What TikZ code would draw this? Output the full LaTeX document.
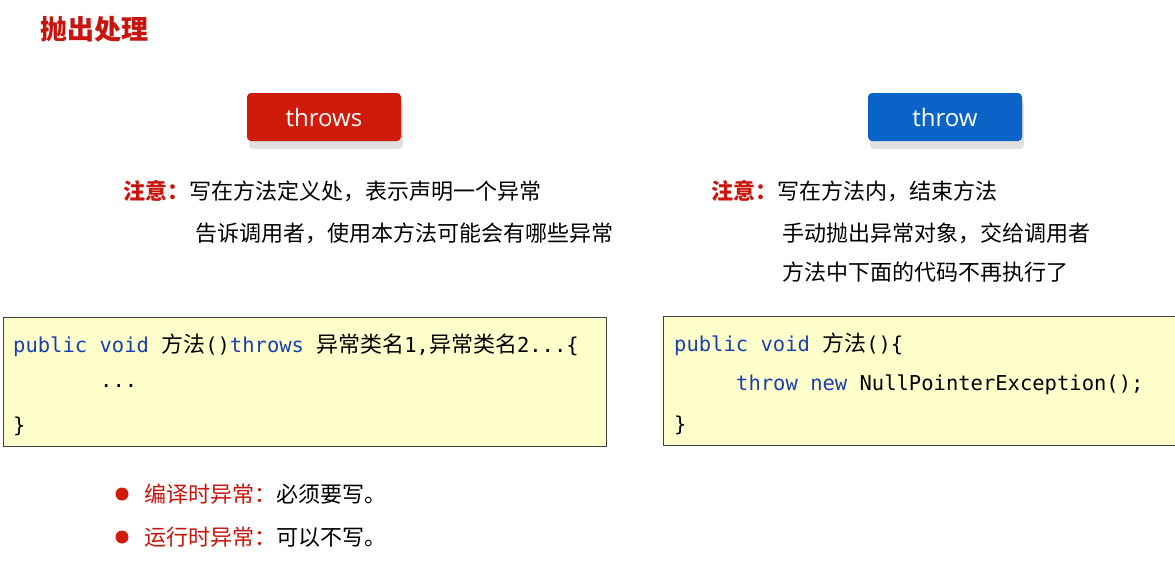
\documentclass[tikz,border=0pt]{standalone}
\usepackage{fontspec}
\setmainfont{Noto Sans CJK SC}
\newfontfamily\monof{DejaVu Sans Mono}
\newfontfamily\lat{Open Sans}
\definecolor{tred}{HTML}{C8140C}
\definecolor{bred}{HTML}{D01A0A}
\definecolor{bblue}{HTML}{0A64C8}
\definecolor{kw}{HTML}{1A3FB0}
\definecolor{codebg}{HTML}{FFFFCC}
\newcommand{\kwd}[1]{{\monof\fontsize{20.5}{22}\selectfont\color{kw}#1}}
\newcommand{\mn}[1]{{\monof\fontsize{20.5}{22}\selectfont #1}}
\begin{document}
\begin{tikzpicture}[x=1pt,y=-1pt,
  btn/.style={rounded corners=4pt,minimum width=154pt,minimum height=48pt,text=white,font=\lat\fontsize{24}{26}\selectfont},
  txt/.style={anchor=west,font=\fontsize{22}{24}\selectfont,inner sep=0pt},
  codebox/.style={draw=black!75,line width=0.8pt,fill=codebg},
  code/.style={anchor=west,inner sep=0pt,font=\fontsize{22}{24}\selectfont}]
\useasboundingbox (0,0) rectangle (1175,571);
\node[anchor=west,text=tred,font=\bfseries\fontsize{27}{30}\selectfont,inner sep=0pt] (title) at (40,29) {抛出处理};
% buttons
\fill[black!12,rounded corners=4pt] (249,100) rectangle (403,149);
\node[btn,fill=bred] (b1) at (324,117) {throws};
\fill[black!12,rounded corners=4pt] (870,100) rectangle (1024,149);
\node[btn,fill=bblue] (b2) at (945,117) {throw};
% left notes
\node[txt] (l1) at (123,191) {{\color{tred}\bfseries 注意：}写在方法定义处，表示声明一个异常};
\node[txt] (l2) at (195,233) {告诉调用者，使用本方法可能会有哪些异常};
% right notes
\node[txt] (r1) at (711,191) {{\color{tred}\bfseries 注意：}写在方法内，结束方法};
\node[txt] (r2) at (782,233) {手动抛出异常对象，交给调用者};
\node[txt] (r3) at (782,272) {方法中下面的代码不再执行了};
% code boxes
\draw[codebox] (3,317) rectangle (606,446);
\node[code] (c1) at (13,345) {\kwd{public void }方法\mn{()}\kwd{throws }异常类名\mn{1,}异常类名\mn{2...\{}};
\node[code] (c2) at (100,386) {\mn{...}};
\node[code] (c3) at (13,426) {\mn{\}}};
\draw[codebox] (663,316) rectangle (1180,445);
\node[code] (d1) at (674,344) {\kwd{public void }方法\mn{()\{}};
\node[code] (d2) at (736,385) {\kwd{throw new }\mn{NullPointerException();}};
\node[code] (d3) at (674,425) {\mn{\}}};
% bullets
\fill[bred] (122,494) circle (6.5);
\node[txt] (e1) at (144,494) {{\color{tred}编译时异常：}必须要写。};
\fill[bred] (122,537) circle (6.5);
\node[txt] (e2) at (144,537) {{\color{tred}运行时异常：}可以不写。};
\end{tikzpicture}
\end{document}
